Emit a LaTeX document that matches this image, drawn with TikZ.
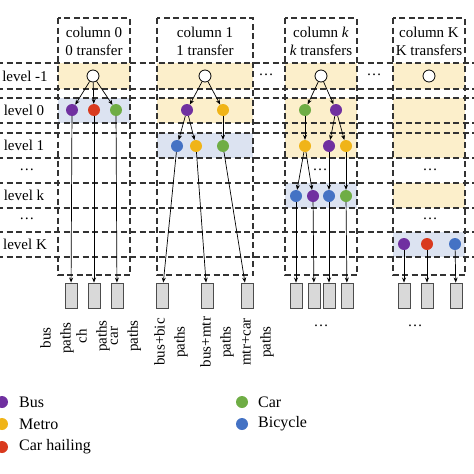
\documentclass[tikz,border=0pt]{standalone}
\usepackage{fontspec}
\setmainfont{Liberation Serif}
\usetikzlibrary{arrows.meta, positioning}
\usepackage{xcolor}

\definecolor{busc}{HTML}{7030A0}
\definecolor{mtrc}{HTML}{F0B418}
\definecolor{chc}{HTML}{D93A1E}
\definecolor{carc}{HTML}{6FAD45}
\definecolor{bicc}{HTML}{4472C4}
\definecolor{cellyellow}{HTML}{FCEFCB}
\definecolor{cellblue}{HTML}{DCE3F1}

\tikzset{
    mode/.style={circle, fill=#1, inner sep=0pt, minimum size=12pt},
    origin/.style={circle, draw=black, fill=white, line width=0.8pt, inner sep=0pt, minimum size=12pt},
    pathbox/.style={draw=black!70, fill=black!15, line width=0.9pt, minimum width=12pt, minimum height=25pt, inner sep=0pt},
    gridline/.style={dash pattern=on 6pt off 3.5pt, line width=1.1pt, draw=black!80},
    flow/.style={-{Stealth[length=5pt,width=4pt]}, line width=0.7pt},
    txt/.style={font=\fontsize{15}{18}\selectfont, inner sep=0pt},
    pathlabel/.style={rotate=90, align=center, inner sep=0pt, font=\fontsize{15}{20}\selectfont},
}

\begin{document}
\begin{tikzpicture}[x=1pt, y=-1pt]
    \useasboundingbox (0,0) rectangle (474,474);

    % shaded cells
    \foreach \l/\r in {58/130, 157/253, 285/357, 393/465}
        \fill[cellyellow] (\l,63) rectangle (\r,89);
    \fill[cellblue] (58,98) rectangle (130,123);
    \fill[cellyellow] (157,98) rectangle (253,123);
    \fill[cellblue] (157,133) rectangle (253,158);
    \fill[cellyellow] (285,98) rectangle (357,158);
    \fill[cellblue] (285,183) rectangle (357,208);
    \fill[cellyellow] (393,98) rectangle (465,158);
    \fill[cellyellow] (393,183) rectangle (465,208);
    \fill[cellblue] (393,232) rectangle (465,257);

    % rows
    \foreach \y in {63, 89, 98, 123, 133, 158, 183, 208, 232, 257}
        \draw[gridline] (-3,\y) -- (477,\y);

    % columns
    \foreach \l/\r in {58/130, 157/253, 285/357, 393/465}
        \draw[gridline] (\l,18) rectangle (\r,275);

    % headers
    \node[txt, align=center] (h0) at (94,41) {column 0\\0 transfer};
    \node[txt, align=center] (h1) at (205,41) {column 1\\1 transfer};
    \node[txt, align=center] (hk) at (321,41) {column \textit{k}\\\textit{k} transfers};
    \node[txt, align=center] (hK) at (429,41) {column K\\K transfers};

    % level labels
    \node[txt] (lm1) at (25,76) {level -1};
    \node[txt] (l0) at (24,110.5) {level 0};
    \node[txt] (l1) at (24,145.5) {level 1};
    \node[txt] (ld1) at (27,170) {…};
    \node[txt] (lk) at (24,195.5) {level k};
    \node[txt] (ld2) at (27,219) {…};
    \node[txt] (lK) at (25,244.5) {level K};

    \node[txt] (gap1) at (266,75) {…};
    \node[txt] (gap2) at (374,75) {…};

    % column 0
    \node[origin] (o0) at (93,76) {};
    \node[mode=busc] (c0a) at (72,110) {};
    \node[mode=chc] (c0b) at (94,110) {};
    \node[mode=carc] (c0c) at (116,110) {};
    \draw[flow] (o0) -- (c0a);
    \draw[flow] (o0) -- (c0b);
    \draw[flow] (o0) -- (c0c);

    % column 1
    \node[origin] (o1) at (205,76) {};
    \node[mode=busc] (c1a) at (187,110) {};
    \node[mode=mtrc] (c1b) at (223,110) {};
    \node[mode=bicc] (c1c) at (177,146) {};
    \node[mode=mtrc] (c1d) at (196,146) {};
    \node[mode=carc] (c1e) at (223,146) {};
    \draw[flow] (o1) -- (c1a);
    \draw[flow] (o1) -- (c1b);
    \draw[flow] (c1a) -- (c1c);
    \draw[flow] (c1a) -- (c1d);
    \draw[flow] (c1b) -- (c1e);

    % column k
    \node[origin] (ok) at (321,76) {};
    \node[mode=carc] (cka) at (305,110) {};
    \node[mode=busc] (ckb) at (336,110) {};
    \node[mode=mtrc] (ckc) at (305,146) {};
    \node[mode=busc] (ckd) at (329,146) {};
    \node[mode=mtrc] (cke) at (346,146) {};
    \node[txt] (ckdots) at (320,170) {…};
    \node[mode=bicc] (ckf) at (296,196) {};
    \node[mode=busc] (ckg) at (313,196) {};
    \node[mode=bicc] (ckh) at (329,196) {};
    \node[mode=carc] (cki) at (346,196) {};
    \draw[flow] (ok) -- (cka);
    \draw[flow] (ok) -- (ckb);
    \draw[flow] (cka) -- (ckc);
    \draw[flow] (ckb) -- (ckd);
    \draw[flow] (ckb) -- (cke);
    \draw[flow] (ckc) -- (ckf);
    \draw[flow] (ckc) -- (ckg);
    \draw[flow] (ckd) -- (ckh);
    \draw[flow] (cke) -- (cki);

    % column K
    \node[origin] (oK) at (429,76) {};
    \node[txt] (cKdots1) at (430,170) {…};
    \node[txt] (cKdots2) at (430,219) {…};
    \node[mode=busc] (cKa) at (404,244) {};
    \node[mode=chc] (cKb) at (427,244) {};
    \node[mode=bicc] (cKc) at (455,244) {};

    % path sets
    \node[pathbox] (p0a) at (71,295.5) {};
    \node[pathbox] (p0b) at (94,295.5) {};
    \node[pathbox] (p0c) at (117,295.5) {};
    \node[pathbox] (p1a) at (162,295.5) {};
    \node[pathbox] (p1b) at (207,295.5) {};
    \node[pathbox] (p1c) at (247,295.5) {};
    \node[pathbox] (pka) at (296,295.5) {};
    \node[pathbox] (pkb) at (314,295.5) {};
    \node[pathbox] (pkc) at (329,295.5) {};
    \node[pathbox] (pkd) at (347,295.5) {};
    \node[pathbox] (pKa) at (404,295.5) {};
    \node[pathbox] (pKb) at (427,295.5) {};
    \node[pathbox] (pKc) at (456,295.5) {};

    \draw[flow] (c0a) -- (p0a);
    \draw[flow] (c0b) -- (p0b);
    \draw[flow] (c0c) -- (p0c);
    \draw[flow] (c1c) -- (p1a);
    \draw[flow] (c1d) -- (p1b);
    \draw[flow] (c1e) -- (p1c);
    \draw[flow] (ckf) -- (pka);
    \draw[flow] (ckg) -- (pkb);
    \draw[flow] (ckh) -- (pkc);
    \draw[flow] (cki) -- (pkd);
    \draw[flow] (cKa) -- (pKa);
    \draw[flow] (cKb) -- (pKb);
    \draw[flow] (cKc) -- (pKc);

    % path labels
    \node[pathlabel] (t0a) at (57,338) {bus\\paths};
    \node[pathlabel] (t0b) at (93,336) {ch\\paths};
    \node[pathlabel] (t0c) at (126,336) {car\\paths};
    \node[pathlabel] (t1a) at (171,342) {bus+bic\\paths};
    \node[pathlabel] (t1b) at (217,342) {bus+mtr\\paths};
    \node[pathlabel] (t1c) at (258,342) {mtr+car\\paths};
    \node[txt] (tk) at (321,326) {…};
    \node[txt] (tK) at (415,326) {…};

    % legend
    \node[mode=busc] (gbus) at (2,402) {};
    \node[txt, anchor=west, font=\fontsize{16}{18}\selectfont] (gbust) at (19,402) {Bus};
    \node[mode=mtrc] (gmtr) at (2,424) {};
    \node[txt, anchor=west, font=\fontsize{16}{18}\selectfont] (gmtrt) at (19,424) {Metro};
    \node[mode=chc] (gch) at (2,447) {};
    \node[txt, anchor=west, font=\fontsize{16}{18}\selectfont] (gcht) at (19,447) {Car hailing};
    \node[mode=carc] (gcar) at (242,402) {};
    \node[txt, anchor=west, font=\fontsize{16}{18}\selectfont] (gcart) at (258,402) {Car};
    \node[mode=bicc] (gbic) at (242,424) {};
    \node[txt, anchor=west, font=\fontsize{16}{18}\selectfont] (gbict) at (258,424) {Bicycle};
\end{tikzpicture}
\end{document}
